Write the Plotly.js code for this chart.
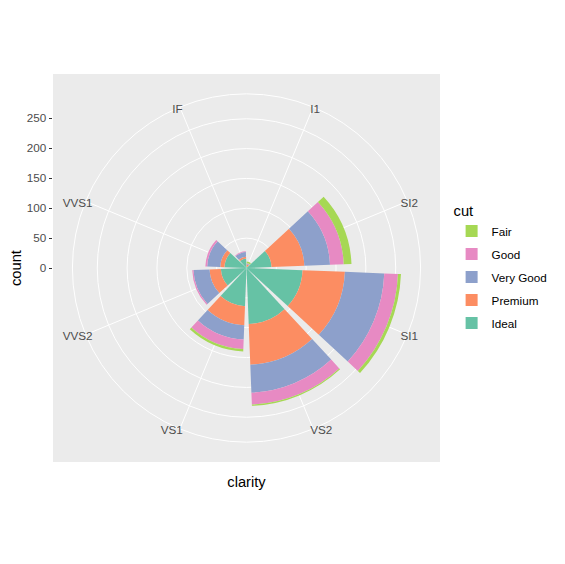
<!DOCTYPE html>
<html>
<head>
<meta charset="utf-8">
<script src="https://cdn.plot.ly/plotly-3.0.1.min.js"></script>
<style>
    body { margin: 0; background: #ffffff; }
    #chart { width: 565px; height: 564px; }
</style>
</head>
<body>
<div id="chart"></div>
<script>
// clarity categories, clockwise from the top
const clarity = ['I1', 'SI2', 'SI1', 'VS2', 'VS1', 'VVS2', 'VVS1', 'IF'];

// counts per cut
const fair     = [3, 13, 5, 2, 4, 0, 0, 0];
const good     = [1, 23, 23, 20, 16, 2, 3, 1];
const veryGood = [1, 43, 66, 47, 24, 27, 22, 8];
const premium  = [4, 55, 71, 68, 32, 19, 7, 3];
const ideal    = [2, 42, 94, 94, 64, 43, 37, 16];

const countTicks = [0, 50, 100, 150, 200, 250];

class PolarBars {

    constructor(container) {
        this.container = container;
        this.CONST = {
            width: 565,
            height: 564,
            // panel box in px
            left: 53, right: 442, top: 74, bottom: 462,
            pxPerCount: 0.6,
            outerR: 175,   // outer ring (0.45 of panel)
            labelR: 167,   // ring the theta labels hang off
            font: 'Liberation Sans, Arial, sans-serif'
        }
    }

    // polar domain (paper fractions) for a circle of radius r around the panel centre
    _domain(r) {
        const c = this.CONST;
        const w = c.right - c.left, h = c.bottom - c.top;
        return {
            x: [(w / 2 - r) / w, (w / 2 + r) / w],
            y: [(h / 2 - r) / h, (h / 2 + r) / h]
        }
    }

    // rank = position in the legend, top first (Fair on top like ggplot)
    _trace(name, values, color, rank) {
        return {
            type: 'barpolar',
            subplot: 'polar',
            name: name,
            legendgroup: name,
            legendrank: rank,
            r: values,
            theta: clarity,
            marker: { color: color, line: { width: 0 } },
            hoverinfo: 'skip'
        }
    }

    draw() {
        const c = this.CONST;
        const h = c.bottom - c.top;
        const halfRange = (h / 2) / c.pxPerCount;
        const rMax = c.outerR / c.pxPerCount;

        var data = [
            this._trace('Ideal', ideal, '#66C2A5', 5),
            this._trace('Premium', premium, '#FC8D62', 4),
            this._trace('Very Good', veryGood, '#8DA0CB', 3),
            this._trace('Good', good, '#E78AC3', 2),
            this._trace('Fair', fair, '#A6D854', 1),
            // carries the theta labels on a slightly smaller ring
            {
                type: 'scatterpolar', subplot: 'polar2', mode: 'markers',
                r: clarity.map(() => 0), theta: clarity,
                marker: { opacity: 0 }, showlegend: false, hoverinfo: 'skip'
            },
            // keeps the cartesian panel (grey box + count axis) alive
            {
                type: 'scatter', x: [0], y: [0], mode: 'markers',
                marker: { opacity: 0 }, showlegend: false, hoverinfo: 'skip'
            }
        ];

        var angular = {
            type: 'category',
            categoryorder: 'array',
            categoryarray: clarity,
            rotation: 67.5,
            direction: 'clockwise'
        };

        var layout = {
            width: c.width,
            height: c.height,
            margin: { l: c.left, r: c.width - c.right, t: c.top, b: c.height - c.bottom, pad: 0 },
            paper_bgcolor: '#ffffff',
            plot_bgcolor: '#EBEBEB',
            font: { family: c.font, color: '#000000' },
            showlegend: true,
            hovermode: false,
            xaxis: {
                range: [-1, 1], showgrid: false, zeroline: false, showticklabels: false,
                ticks: '', fixedrange: true,
                title: { text: 'clarity', font: { size: 14.7, color: '#000000' }, standoff: 14 }
            },
            yaxis: {
                range: [-halfRange, halfRange], showgrid: false, zeroline: false,
                tickvals: countTicks, ticktext: countTicks.map(String),
                ticks: 'outside', ticklen: 3.5, tickwidth: 1, tickcolor: '#333333',
                tickfont: { size: 11.7, color: '#4D4D4D' }, fixedrange: true,
                title: { text: 'count', font: { size: 14.7, color: '#000000' }, standoff: 1 }
            },
            polar: {
                domain: this._domain(c.outerR),
                bgcolor: 'rgba(0,0,0,0)',
                barmode: 'stack',
                bargap: 0.1,
                radialaxis: {
                    range: [0, rMax], tickvals: countTicks, showticklabels: false,
                    ticks: '', showline: false, gridcolor: '#ffffff', gridwidth: 1
                },
                angularaxis: Object.assign({}, angular, {
                    showgrid: true, gridcolor: '#ffffff', gridwidth: 1,
                    showline: true, linecolor: '#ffffff', linewidth: 1,
                    showticklabels: false, ticks: ''
                })
            },
            polar2: {
                domain: this._domain(c.labelR),
                bgcolor: 'rgba(0,0,0,0)',
                radialaxis: { visible: false, range: [0, 1] },
                angularaxis: Object.assign({}, angular, {
                    showgrid: false, showline: false, ticks: '',
                    tickfont: { size: 11.7, color: '#4D4D4D' }
                })
            },
            legend: {
                x: 1.03, xanchor: 'left',
                y: 0.682, yanchor: 'top',
                traceorder: 'grouped',
                tracegroupgap: 4,
                bgcolor: 'rgba(0,0,0,0)',
                font: { size: 11.7, color: '#000000' },
                title: { text: 'cut', font: { size: 14.7, color: '#000000' } },
                itemwidth: 30
            }
        };

        Plotly.newPlot(this.container, data, layout, { displayModeBar: false, staticPlot: true });
    }
}

new PolarBars(document.getElementById('chart')).draw();
</script>
</body>
</html>
